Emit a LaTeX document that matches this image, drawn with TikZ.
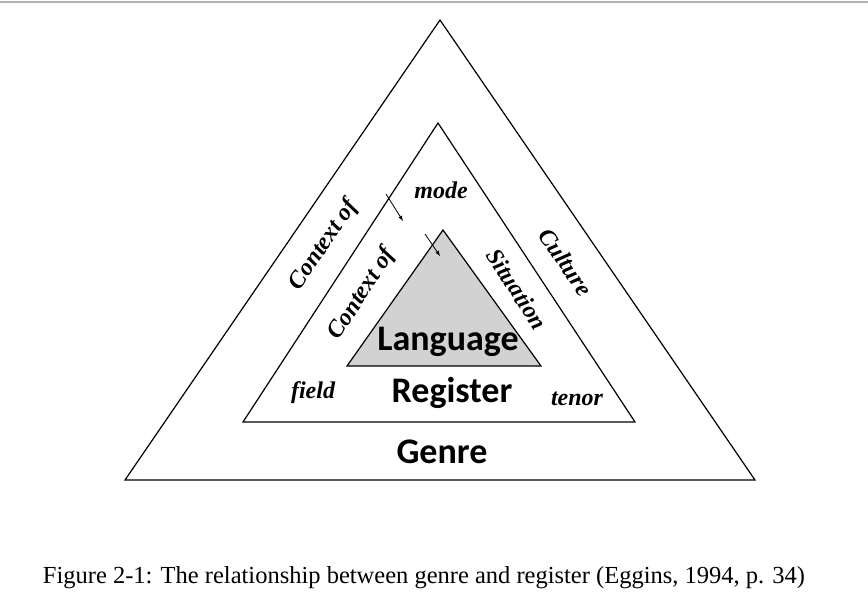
\documentclass[tikz,border=0pt]{standalone}
\usepackage{fontspec}
\setmainfont{Liberation Serif}
\newfontfamily\bsans{Carlito}
\begin{document}
\begin{tikzpicture}[x=1pt,y=-1pt,
  tri/.style={draw=black,line width=1.2pt,line join=miter},
  hand/.style={inner sep=0pt,font=\fontsize{24}{26}\selectfont\itshape\bfseries},
  big/.style={inner sep=0pt,font=\fontsize{36}{38}\selectfont\bsans\bfseries},
  arr/.style={->,line width=0.8pt,>=latex}]
\useasboundingbox (0,0) rectangle (868,597);
\draw[gray!60,line width=2pt] (0,2) -- (868,2);
\draw[tri] (440,20) -- (755,480) -- (125,480) -- cycle;
\draw[tri] (438,123) -- (635,422) -- (243,422) -- cycle;
\draw[tri,fill=gray!35] (443,230) -- (541,366) -- (347,366) -- cycle;
\node[hand,rotate=56] (c1) at (324,245) {Context of};
\node[hand,rotate=-56] (cu) at (566,262) {Culture};
\node[hand,rotate=57] (c2) at (362,294) {Context of};
\node[hand,rotate=-57] (si) at (517,289) {Situation};
\node[hand] (mo) at (441,190) {mode};
\node[hand] (fi) at (313,393) {field};
\node[hand] (te) at (577,399) {tenor};
\node[big] (la) at (448,342) {Language};
\node[big] (re) at (452,393) {Register};
\node[big] (ge) at (442,452) {Genre};
\coordinate (a1s) at (386,194); \coordinate (a1e) at (403,221);
\coordinate (a2s) at (425,234); \coordinate (a2e) at (440,256);
\draw[arr] (a1s) -- (a1e);
\draw[arr] (a2s) -- (a2e);
\node[font=\fontsize{24.5}{26}\selectfont] (cap) at (424,578) {Figure 2-1: The relationship between genre and register (Eggins, 1994, p. 34)};
\end{tikzpicture}
\end{document}
